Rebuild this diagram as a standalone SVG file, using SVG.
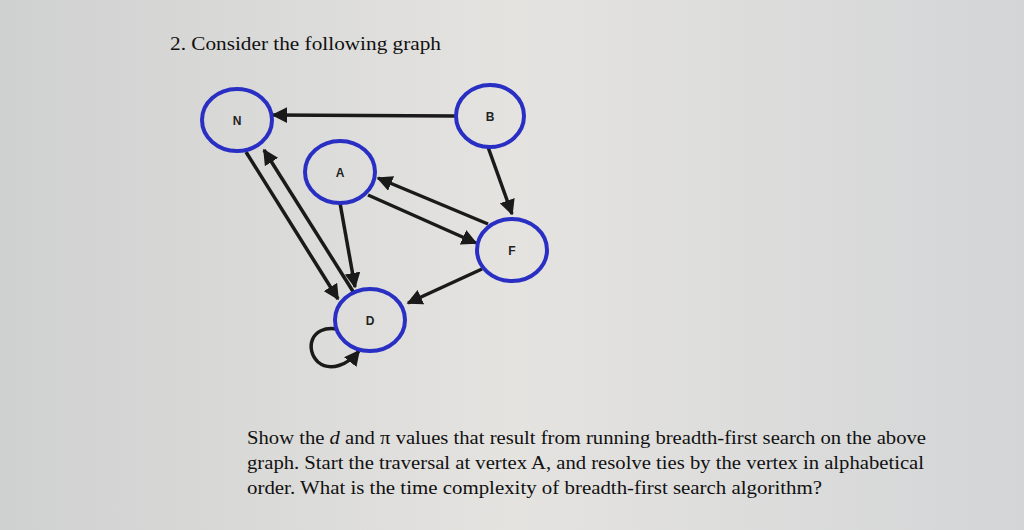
<svg xmlns="http://www.w3.org/2000/svg" width="1024" height="530" viewBox="0 0 1024 530">
<defs>
<linearGradient id="bg" x1="0" y1="0" x2="1" y2="0">
<stop offset="0" stop-color="#cfd0d0"/><stop offset="0.5" stop-color="#e4e3e0"/><stop offset="1" stop-color="#d4d5d7"/>
</linearGradient>
<marker id="ar" viewBox="0 0 10 10" refX="9" refY="5" markerWidth="4.5" markerHeight="4.5" orient="auto"><path d="M0,0 L10,5 L0,10 z" fill="#1a1a1a"/></marker>
<style>
.n ellipse{fill:none;stroke:#2a2fc4;stroke-width:4}
.n text{font-family:"Liberation Sans",Arial,sans-serif;font-weight:bold;font-size:12px;fill:#222;text-anchor:middle}
.e path{fill:none;stroke:#1a1a1a;stroke-width:3.5;marker-end:url(#ar)}
.t{font-family:"Liberation Serif","Times New Roman",serif;font-size:19.5px;fill:#111}
</style>
</defs>
<rect width="1024" height="530" fill="url(#bg)"/>
<text class="t" x="170" y="50" textLength="271" lengthAdjust="spacingAndGlyphs">2.  Consider the following graph</text>
<g class="e">
<path d="M455,116 L273,115"/>
<path d="M488,147 L512,214"/>
<path d="M368,195 L476,243"/>
<path d="M488,224 L378,178"/>
<path d="M340,203 L355,287"/>
<path d="M246,152 L338,299"/>
<path d="M354,293 L264,150"/>
<path d="M482,269 L408,303"/>
<path d="M337,329 C310,325 305,350 318,362 C330,372 348,365 359,351"/>
</g>
<g id="N" class="n"><ellipse cx="237" cy="120" rx="35" ry="31"/><text x="237" y="125">N</text></g>
<g id="B" class="n"><ellipse cx="490" cy="116" rx="34" ry="31"/><text x="490" y="121">B</text></g>
<g id="A" class="n"><ellipse cx="340" cy="172" rx="35" ry="31"/><text x="340" y="177">A</text></g>
<g id="F" class="n"><ellipse cx="512" cy="250" rx="35" ry="31"/><text x="512" y="255">F</text></g>
<g id="D" class="n"><ellipse cx="370" cy="320" rx="35" ry="31"/><text x="370" y="325">D</text></g>
<text class="t" x="247" y="444" textLength="679" lengthAdjust="spacingAndGlyphs">Show the <tspan font-style="italic">d</tspan> and π values that result from running breadth-first search on the above</text>
<text class="t" x="247" y="469" textLength="677" lengthAdjust="spacingAndGlyphs">graph. Start the traversal at vertex A, and resolve ties by the vertex in alphabetical</text>
<text class="t" x="247" y="494" textLength="575" lengthAdjust="spacingAndGlyphs">order. What is the time complexity of breadth-first search algorithm?</text>
</svg>
